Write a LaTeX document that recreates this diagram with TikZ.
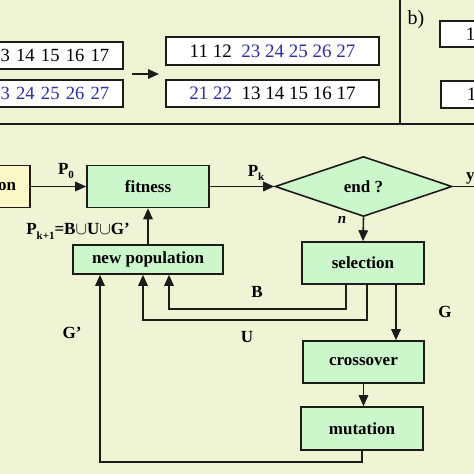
\documentclass[tikz,border=0pt]{standalone}
\usepackage{fontspec}
\setmainfont{Liberation Serif}
\usetikzlibrary{arrows.meta,shapes.geometric}
\definecolor{bg}{HTML}{EEF4D4}
\definecolor{gfill}{HTML}{CCF7CB}
\definecolor{yfill}{HTML}{FDF8C8}
\definecolor{bl}{HTML}{2E2EB0}
\definecolor{lnc}{HTML}{1C1C1C}
\newcommand{\subsc}[1]{\raisebox{-0.28em}{\fontsize{11}{12}\selectfont #1}}
\begin{document}
\begin{tikzpicture}[x=1pt,y=-1pt,
  box/.style={draw=lnc, line width=1.6pt, fill=gfill, inner sep=0pt, font=\bfseries\fontsize{17}{20}\selectfont},
  numbox/.style={draw=lnc, line width=1.6pt, fill=white, inner sep=0pt, font=\fontsize{19}{22}\selectfont},
  arr/.style={draw=lnc, line width=1.6pt, -{Triangle[length=11pt,width=9.5pt]}},
  wire/.style={draw=lnc, line width=1.6pt},
  lbl/.style={font=\bfseries\fontsize{17}{20}\selectfont, inner sep=0pt},
]
\useasboundingbox (0,0) rectangle (474,474);
\fill[bg] (0,0) rectangle (474,474);
\clip (0,0) rectangle (474,474);

% ---------- top panel ----------
\draw[wire] (0,124) -- (474,124);
\draw[wire] (400,0) -- (400,124);

\node[numbox, anchor=east, text width=140pt, align=right, inner xsep=14pt, minimum height=27pt, font=\fontsize{18.6}{22}\selectfont] (l1) at (124,55.5) {3 14 15 16 17};
\node[numbox, anchor=east, text width=140pt, align=right, inner xsep=14pt, minimum height=27pt, text=bl, font=\fontsize{18.6}{22}\selectfont] (l2) at (124,93.5) {3 24 25 26 27};
\node[numbox, minimum width=213pt, minimum height=28pt] (r1) at (272.5,51) {11 12\ \ {\color{bl}23 24 25 26 27}};
\node[numbox, minimum width=213pt, minimum height=27pt] (r2) at (272.5,93.5) {{\color{bl}21 22}\ \ 13 14 15 16 17};
\coordinate (a1) at (132,74);
\coordinate (a2) at (159,74);
\draw[arr] (a1) -- (a2);

\node[font=\fontsize{20}{22}\selectfont, inner sep=0pt] (bl) at (416,20) {b)};
\node[numbox, anchor=west, minimum height=26pt, text width=30pt, inner xsep=26pt, align=left] (rb1) at (439,34) {1};
\node[numbox, anchor=west, minimum height=27pt, text width=30pt, inner xsep=26pt, align=left] (rb2) at (440,94.5) {1};

% ---------- flowchart ----------
\node[box, fill=yfill, anchor=east, text width=30pt, align=right, inner xsep=14pt, minimum height=42pt] (init) at (31,186.5) {on};
\node[box, minimum width=122pt, minimum height=42pt] (fit) at (148,186.5) {fitness};
\node[box, diamond, minimum width=177pt, minimum height=60pt] (end) at (363.5,186.5) {end ?};
\node[box, minimum width=122pt, minimum height=42pt] (sel) at (363,263) {selection};
\node[box, minimum width=150pt, minimum height=29pt] (np) at (148,259.5) {new population};
\node[box, minimum width=121pt, minimum height=42pt] (cross) at (363.5,362) {crossover};
\node[box, minimum width=122pt, minimum height=43pt] (mut) at (362,428.5) {mutation};

\coordinate (yend) at (480,186.5);
\draw[arr] (init.east) -- (fit.west);
\draw[arr] (fit.east) -- (end.west);
\draw[wire] (end.east) -- (yend);
\draw[arr] (end.south) -- (sel.north);
\draw[arr] (np.north) -- (fit.south);
\draw[arr] (cross.south) -- (cross.south |- mut.north);

% B
\coordinate (bR) at (346,309);
\coordinate (bL) at (169,309);
\draw[arr] (sel.south -| bR) -- (bR) -- (bL) -- (np.south -| bL);
% U
\coordinate (uR) at (367,320);
\coordinate (uL) at (143,320);
\draw[arr] (sel.south -| uR) -- (uR) -- (uL) -- (np.south -| uL);
% G
\coordinate (gx) at (396,300);
\draw[arr] (sel.south -| gx) -- (cross.north -| gx);
% G'
\coordinate (gpR) at (362,462);
\coordinate (gpL) at (100,462);
\draw[arr] (mut.south) -- (gpR) -- (gpL) -- (np.south -| gpL);

% labels
\node[lbl] (lp0) at (66,171) {P\subsc{0}};
\node[lbl] (lpk) at (256,173) {P\subsc{k}};
\node[lbl, font=\bfseries\itshape\fontsize{15}{18}\selectfont] (ln) at (342,220) {n};
\node[lbl] (lpk1) at (78,231) {P\subsc{k+1}=B$\cup$U$\cup$G'};
\node[lbl] (lB) at (257,292) {B};
\node[lbl] (lU) at (247,337) {U};
\node[lbl] (lG) at (445,312) {G};
\node[lbl] (lGp) at (72,333) {G'};
\node[lbl, anchor=west] (ly) at (466,178) {y};
\end{tikzpicture}
\end{document}
